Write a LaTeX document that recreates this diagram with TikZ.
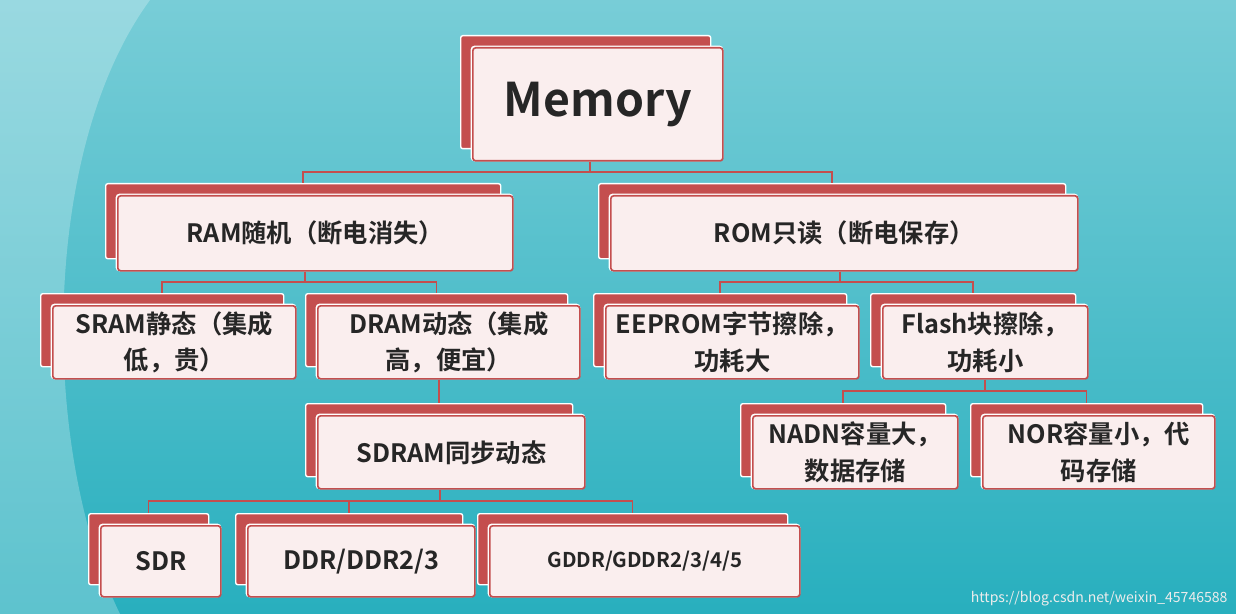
\documentclass[tikz,border=0pt]{standalone}
\usepackage{fontspec}
\setmainfont{Noto Sans CJK SC}[BoldFont={* Bold}]
\definecolor{bred}{RGB}{196,78,78}
\definecolor{bfill}{RGB}{250,238,238}
\definecolor{tealA}{RGB}{120,205,215}
\definecolor{tealB}{RGB}{40,175,190}
\begin{document}
\begin{tikzpicture}[x=0.05cm,y=-0.05cm,
  backbox/.style={draw=white,line width=2pt,fill=bred,rounded corners=3pt,inner sep=0pt,anchor=north west},
  frontbox/.style={draw=bred,line width=2.4pt,fill=bfill,rounded corners=4pt,inner sep=0pt,anchor=north west,font=\bfseries,text=black!85,align=center},
  link/.style={draw=bred,line width=2.2pt},
  tx/.style={font=\bfseries\fontsize{36}{52}\selectfont}]
\shade[top color=tealA,bottom color=tealB] (0,0) rectangle (1236,614);
\fill[white,opacity=0.25] (0,0) -- (150,0) .. controls (40,150) and (40,450) .. (120,614) -- (0,614) -- cycle;
\newcommand{\bx}[7]{%
  \node[backbox,minimum width={(#4-#2)*0.05cm},minimum height={(#5-#3)*0.05cm}] (#1b) at (#2,#3) {};
  \draw[white,line width=4pt,rounded corners=4pt] (#2+12,#3+12) rectangle (#4+12,#5+12);
  \node[frontbox,minimum width={(#4-#2)*0.05cm},minimum height={(#5-#3)*0.05cm},#7] (#1) at (#2+12,#3+12) {#6};}
\bx{mem}{460}{35}{710}{148}{Memory}{font=\bfseries\fontsize{66}{70}\selectfont}
\bx{ram}{105}{183}{500}{258}{RAM随机（断电消失）}{tx}
\bx{rom}{598}{183}{1065}{258}{ROM只读（断电保存）}{tx}
\bx{sram}{40}{293}{283}{366}{SRAM静态（集成\\低，贵）}{tx}
\bx{dram}{305}{293}{567}{366}{DRAM动态（集成\\高，便宜）}{tx}
\bx{eep}{593}{293}{846}{366}{EEPROM字节擦除，\\功耗大}{tx}
\bx{fla}{870}{293}{1075}{366}{Flash块擦除，\\功耗小}{tx}
\bx{sdram}{305}{403}{572}{476}{SDRAM同步动态}{tx}
\bx{nadn}{740}{403}{945}{476}{NADN容量大，\\数据存储}{tx}
\bx{nor}{970}{403}{1202}{476}{NOR容量小，代\\码存储}{tx}
\bx{sdr}{88}{513}{208}{584}{SDR}{tx}
\bx{ddr}{235}{513}{462}{584}{DDR/DDR2/3}{tx}
\bx{gddr}{477}{513}{787}{584}{GDDR/GDDR2/3/4/5}{font=\bfseries\fontsize{29}{34}\selectfont}
\coordinate (j1) at (590,172);
\coordinate (j2) at (305,282);
\coordinate (j3) at (840,282);
\coordinate (j4) at (985,391);
\coordinate (j5) at (440,501);
\draw[link] (mem.south -| j1) -- (j1);
\draw[link] (ramb.north) |- (j1) -| (romb.north);
\draw[link] (ram.south -| j2) -- (j2);
\draw[link] (sramb.north) |- (j2) -| (dramb.north);
\draw[link] (rom.south -| j3) -- (j3);
\draw[link] (eepb.north) |- (j3) -| (flab.north);
\draw[link] (dram.south -| sdramb.north) -- (sdramb.north);
\draw[link] (fla.south -| j4) -- (j4);
\draw[link] (nadnb.north) |- (j4) -| (norb.north);
\draw[link] (sdram.south -| j5) -- (j5);
\draw[link] (sdrb.north) |- (j5) -| (gddrb.north);
\draw[link] (j5 -| ddrb.north) -- (ddrb.north);
\node[anchor=south east,text=white!85!gray,font=\fontsize{20}{24}\selectfont] (wm) at (1230,608) {https://blog.csdn.net/weixin\_45746588};
\end{tikzpicture}
\end{document}
